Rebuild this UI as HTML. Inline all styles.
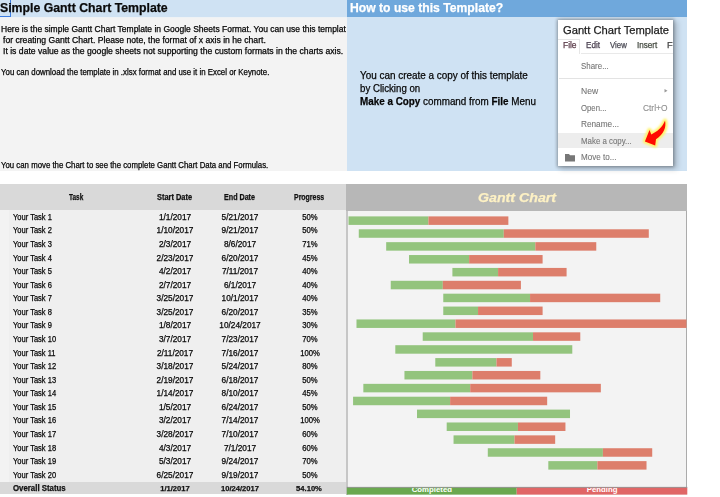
<!DOCTYPE html>
<html><head><meta charset="utf-8">
<style>
html,body{margin:0;padding:0;}
body{width:720px;height:497px;overflow:hidden;position:relative;background:#fff;font-family:"Liberation Sans",sans-serif;}
.r{position:absolute;}
.t{position:absolute;white-space:nowrap;line-height:normal;transform-origin:0 0;-webkit-text-stroke:0.25px currentColor;}
.c{position:absolute;white-space:nowrap;line-height:normal;text-align:center;transform-origin:50% 0;-webkit-text-stroke:0.25px currentColor;}
svg{position:absolute;left:0;top:0;}
</style></head><body>
<!-- top blocks -->
<div class="r" style="left:0;top:0;width:347px;height:16.7px;background:#cfe2f3"></div>
<div class="r" style="left:347px;top:0;width:340px;height:16.7px;background:#6fa8dc"></div>
<div class="r" style="left:0;top:16.7px;width:346.5px;height:154.3px;background:#f3f3f3"></div>
<div class="r" style="left:0;top:16.7px;width:346.5px;height:1.6px;background:#eef2f5"></div>
<div class="r" style="left:347px;top:16.7px;width:340px;height:154.3px;background:#cfe2f3"></div>
<!-- selection box -->
<div class="r" style="left:-2px;top:-2px;width:10.5px;height:16.5px;border:1.5px solid #3d7de0"></div>
<!-- popup -->
<div class="r" style="left:557.9px;top:19.6px;width:114.8px;height:146.8px;background:#fff;box-shadow:0 0 3px 1px rgba(0,0,0,0.3), 3px 2px 6px 1px rgba(0,0,0,0.2)"></div>
<div class="r" style="left:580.5px;top:53px;width:92.3px;height:1px;background:#e9e9e9"></div>
<div class="r" style="left:557.8px;top:38.5px;width:22.5px;height:15px;border-top:1px solid #e6e6e6;border-right:1px solid #e6e6e6;box-sizing:border-box"></div>
<div class="r" style="left:559px;top:78px;width:113.8px;height:1px;background:#e3e3e3"></div>
<div class="r" style="left:557.8px;top:133px;width:114.8px;height:15.4px;background:#ededed"></div>
<svg width="720" height="497" viewBox="0 0 720 497">
 <defs><filter id="glow" x="-50%" y="-50%" width="200%" height="200%"><feGaussianBlur stdDeviation="0.9"/></filter></defs>
 <path d="M664.5 89 l3 1.8 -3 1.8z" fill="#999"/>
 <path d="M565 154 h4 l1 1.2 h5 v6.3 h-10z" fill="#777"/>
 <path d="M665 120.8 C666.5 127 664 134 656 139.3 L655.2 145.6 L644.9 141.4 L649.5 130.1 L651.3 134.4 C657 132 662.5 127 665 120.8 Z" fill="#fff36a" stroke="#fff36a" stroke-width="4.2" stroke-linejoin="round" filter="url(#glow)"/>
 <path d="M665 120.8 C666.5 127 664 134 656 139.3 L655.2 145.6 L644.9 141.4 L649.5 130.1 L651.3 134.4 C657 132 662.5 127 665 120.8 Z" fill="#ff0a00"/>
</svg>
<!-- table -->
<div class="r" style="left:0;top:184px;width:346px;height:25.8px;background:#d9d9d9"></div>
<div class="r" style="left:0;top:210px;width:346px;height:272px;background:#efefef"></div>
<div class="r" style="left:0;top:210px;width:8.5px;height:272px;background:#f3f3f3"></div>
<div class="r" style="left:0;top:482px;width:345.5px;height:11.8px;background:#d9d9d9"></div>
<!-- chart -->
<div class="r" style="left:346px;top:184px;width:341.3px;height:26.7px;background:#b7b7b7"></div>
<div class="r" style="left:346px;top:210.7px;width:341px;height:284px;background:#f3f3f3"></div>
<div class="r" style="left:346px;top:210.7px;width:1.8px;height:284px;background:#c6c6c6"></div>
<div class="r" style="left:686px;top:210.7px;width:1px;height:276px;background:#ababab"></div>
<svg width="720" height="497" viewBox="0 0 720 497">
<rect x="348.50" y="216.40" width="79.93" height="8.5" fill="#93c47d"/>
<rect x="428.43" y="216.40" width="79.93" height="8.5" fill="#dd7e6b"/>
<rect x="358.78" y="229.28" width="145.01" height="8.5" fill="#93c47d"/>
<rect x="503.78" y="229.28" width="145.01" height="8.5" fill="#dd7e6b"/>
<rect x="386.18" y="242.16" width="149.16" height="8.5" fill="#93c47d"/>
<rect x="535.34" y="242.16" width="60.93" height="8.5" fill="#dd7e6b"/>
<rect x="409.02" y="255.04" width="60.12" height="8.5" fill="#93c47d"/>
<rect x="469.13" y="255.04" width="73.47" height="8.5" fill="#dd7e6b"/>
<rect x="452.40" y="267.92" width="45.67" height="8.5" fill="#93c47d"/>
<rect x="498.08" y="267.92" width="68.51" height="8.5" fill="#dd7e6b"/>
<rect x="390.75" y="280.80" width="52.07" height="8.5" fill="#93c47d"/>
<rect x="442.81" y="280.80" width="78.10" height="8.5" fill="#dd7e6b"/>
<rect x="443.27" y="293.68" width="86.78" height="8.5" fill="#93c47d"/>
<rect x="530.05" y="293.68" width="130.17" height="8.5" fill="#dd7e6b"/>
<rect x="443.27" y="306.56" width="34.77" height="8.5" fill="#93c47d"/>
<rect x="478.04" y="306.56" width="64.57" height="8.5" fill="#dd7e6b"/>
<rect x="356.49" y="319.44" width="98.99" height="8.5" fill="#93c47d"/>
<rect x="455.49" y="319.44" width="230.99" height="8.5" fill="#dd7e6b"/>
<rect x="422.72" y="332.32" width="110.30" height="8.5" fill="#93c47d"/>
<rect x="533.01" y="332.32" width="47.27" height="8.5" fill="#dd7e6b"/>
<rect x="395.31" y="345.20" width="176.98" height="8.5" fill="#93c47d"/>
<rect x="435.28" y="358.08" width="61.20" height="8.5" fill="#93c47d"/>
<rect x="496.48" y="358.08" width="15.30" height="8.5" fill="#dd7e6b"/>
<rect x="404.45" y="370.96" width="67.94" height="8.5" fill="#93c47d"/>
<rect x="472.39" y="370.96" width="67.94" height="8.5" fill="#dd7e6b"/>
<rect x="363.34" y="383.84" width="106.87" height="8.5" fill="#93c47d"/>
<rect x="470.22" y="383.84" width="130.62" height="8.5" fill="#dd7e6b"/>
<rect x="353.07" y="396.72" width="97.05" height="8.5" fill="#93c47d"/>
<rect x="450.12" y="396.72" width="97.05" height="8.5" fill="#dd7e6b"/>
<rect x="417.01" y="409.60" width="153.00" height="8.5" fill="#93c47d"/>
<rect x="446.69" y="422.48" width="71.25" height="8.5" fill="#93c47d"/>
<rect x="517.94" y="422.48" width="47.50" height="8.5" fill="#dd7e6b"/>
<rect x="453.55" y="435.36" width="60.97" height="8.5" fill="#93c47d"/>
<rect x="514.52" y="435.36" width="40.65" height="8.5" fill="#dd7e6b"/>
<rect x="487.80" y="448.24" width="115.09" height="8.5" fill="#93c47d"/>
<rect x="602.89" y="448.24" width="49.33" height="8.5" fill="#dd7e6b"/>
<rect x="548.32" y="461.12" width="49.10" height="8.5" fill="#93c47d"/>
<rect x="597.41" y="461.12" width="49.10" height="8.5" fill="#dd7e6b"/>
<rect x="346.8" y="486.9" width="340.5" height="0.9" fill="#7f7f7f"/>
<rect x="346.8" y="487.8" width="169.9" height="6.8" fill="#6aa84f"/>
<rect x="516.7" y="487.8" width="170.6" height="6.8" fill="#e06666"/>
</svg>
<div class="r" style="left:346.8px;top:487.8px;width:341px;height:6.8px;overflow:hidden">
 <div style="position:absolute;left:64.9px;top:-3.2px;font-size:7.8px;font-weight:bold;color:#fff;white-space:nowrap">Completed</div>
 <div style="position:absolute;left:239.9px;top:-3.2px;font-size:7.8px;font-weight:bold;color:#fff;white-space:nowrap">Pending</div>
</div>
<div class="t" id="gtitle" style="left:478px;top:189.69px;font-size:13.6px;font-weight:bold;font-style:italic;color:#fdf1c4;transform:scaleX(1.0440)">Gantt Chart</div>
<!-- texts -->
<div class="r" style="left:0;top:0;width:346.5px;height:184px;overflow:hidden">
<div class="t" id="title" style="left:0.20px;top:0.65px;font-size:12.210px;transform:scaleX(1.0066);font-weight:bold;color:#0b0b0b">Simple Gantt Chart Template</div>
<div class="t" id="l1" style="left:1.20px;top:24.47px;font-size:8.430px;transform:scaleX(1.0096);color:#050505">Here is the simple Gantt Chart Template in Google Sheets Format. You can use this templat</div>
<div class="t" id="l2" style="left:2.70px;top:35.27px;font-size:8.430px;transform:scaleX(1.0226);color:#050505">for creating Gantt Chart. Please note, the format of x axis in he chart.</div>
<div class="t" id="l3" style="left:2.70px;top:46.17px;font-size:8.430px;transform:scaleX(1.0250);color:#050505">It is date value as the google sheets not supporting the custom formats in the charts axis.</div>
<div class="t" id="l4" style="left:1.00px;top:66.97px;font-size:8.430px;transform:scaleX(0.9330);color:#050505">You can download the template in .xlsx format and use it in Excel or Keynote.</div>
<div class="t" id="l5" style="left:0.60px;top:160.17px;font-size:8.430px;transform:scaleX(0.9278);color:#050505">You can move the Chart to see the complete Gantt Chart Data and Formulas.</div>
</div>
<div class="t" id="how" style="left:350.00px;top:0.32px;font-size:12.791px;transform:scaleX(0.9516);font-weight:bold;color:#fff">How to use this Template?</div>
<div class="t" id="r1" style="left:359.60px;top:69.19px;font-size:10.611px;transform:scaleX(0.9344);color:#050505">You can create a copy of this template</div>
<div class="t" id="r2" style="left:359.80px;top:81.79px;font-size:10.611px;transform:scaleX(0.9121);color:#050505">by Clicking on</div>
<div class="t" id="r3" style="left:359.80px;top:94.69px;font-size:10.611px;transform:scaleX(0.9296);color:#050505"><b>Make a Copy</b> command from <b>File</b> Menu</div>
<div class="t" id="ptitle" style="left:563.00px;top:24.04px;font-size:11.337px;transform:scaleX(0.9860);color:#1c1c1c">Gantt Chart Template</div>
<div class="t" id="mfile" style="left:563.00px;top:40.31px;font-size:8.721px;transform:scaleX(0.9643);color:#5a3a48">File</div>
<div class="t" id="medit" style="left:586.00px;top:40.31px;font-size:8.721px;transform:scaleX(0.9333);color:#4a4050">Edit</div>
<div class="t" id="mview" style="left:610.00px;top:40.31px;font-size:8.721px;transform:scaleX(0.8947);color:#4a4a55">View</div>
<div class="t" id="mins" style="left:636.70px;top:40.31px;font-size:8.721px;transform:scaleX(0.9318);color:#444a40">Insert</div>
<div class="t" id="mf" style="left:666.70px;top:40.31px;font-size:8.721px;transform:scaleX(1.0600);color:#444">F</div>
<div class="t" id="share" style="left:581.20px;top:60.81px;font-size:8.721px;transform:scaleX(0.9097);color:#707070;-webkit-text-stroke:0.1px #888">Share...</div>
<div class="t" id="new" style="left:580.80px;top:85.81px;font-size:8.721px;transform:scaleX(0.9824);color:#707070;-webkit-text-stroke:0.1px #888">New</div>
<div class="t" id="open" style="left:580.80px;top:102.51px;font-size:8.721px;transform:scaleX(0.8897);color:#707070;-webkit-text-stroke:0.1px #888">Open...</div>
<div class="t" id="ctrlo" style="left:643.00px;top:102.51px;font-size:8.721px;transform:scaleX(0.9600);color:#8a8a8a;-webkit-text-stroke:0.1px #999">Ctrl+O</div>
<div class="t" id="rename" style="left:580.80px;top:119.11px;font-size:8.721px;transform:scaleX(0.9450);color:#707070;-webkit-text-stroke:0.1px #888">Rename...</div>
<div class="t" id="copy" style="left:580.80px;top:135.71px;font-size:8.721px;transform:scaleX(0.9036);color:#707070;-webkit-text-stroke:0.1px #888">Make a copy...</div>
<div class="t" id="move" style="left:580.80px;top:152.11px;font-size:8.721px;transform:scaleX(0.9263);color:#707070;-webkit-text-stroke:0.1px #888">Move to...</div>
<div class="t" id="hTask" style="left:69.20px;top:192.37px;font-size:8.430px;transform:scaleX(0.7684);font-weight:bold;color:#111">Task</div>
<div class="t" id="hStart" style="left:157.00px;top:192.37px;font-size:8.430px;transform:scaleX(0.8825);font-weight:bold;color:#111">Start Date</div>
<div class="t" id="hEnd" style="left:223.90px;top:192.37px;font-size:8.430px;transform:scaleX(0.8486);font-weight:bold;color:#111">End Date</div>
<div class="t" id="hProg" style="left:294.20px;top:192.37px;font-size:8.430px;transform:scaleX(0.8243);font-weight:bold;color:#111">Progress</div>
<div class="t" id="task1" style="left:12.80px;top:212.83px;font-size:8.140px;transform:scaleX(0.9257);color:#080808">Your Task 1</div>
<div class="c" style="left:134.70px;width:80px;top:212.83px;font-size:8.140px;transform:scaleX(1.0173);color:#080808">1/1/2017</div>
<div class="c" style="left:199.80px;width:80px;top:212.83px;font-size:8.140px;transform:scaleX(1.0173);color:#080808">5/21/2017</div>
<div class="c" style="left:269.60px;width:80px;top:212.83px;font-size:8.140px;transform:scaleX(0.9450);color:#080808">50%</div>
<div class="t" id="task2" style="left:12.80px;top:226.40px;font-size:8.140px;transform:scaleX(0.9257);color:#080808">Your Task 2</div>
<div class="c" style="left:134.70px;width:80px;top:226.40px;font-size:8.140px;transform:scaleX(1.0173);color:#080808">1/10/2017</div>
<div class="c" style="left:199.80px;width:80px;top:226.40px;font-size:8.140px;transform:scaleX(1.0173);color:#080808">9/21/2017</div>
<div class="c" style="left:269.60px;width:80px;top:226.40px;font-size:8.140px;transform:scaleX(0.9450);color:#080808">50%</div>
<div class="t" id="task3" style="left:12.80px;top:239.97px;font-size:8.140px;transform:scaleX(0.9257);color:#080808">Your Task 3</div>
<div class="c" style="left:134.70px;width:80px;top:239.97px;font-size:8.140px;transform:scaleX(1.0173);color:#080808">2/3/2017</div>
<div class="c" style="left:199.80px;width:80px;top:239.97px;font-size:8.140px;transform:scaleX(1.0173);color:#080808">8/6/2017</div>
<div class="c" style="left:269.60px;width:80px;top:239.97px;font-size:8.140px;transform:scaleX(0.9450);color:#080808">71%</div>
<div class="t" id="task4" style="left:12.80px;top:253.54px;font-size:8.140px;transform:scaleX(0.9257);color:#080808">Your Task 4</div>
<div class="c" style="left:134.70px;width:80px;top:253.54px;font-size:8.140px;transform:scaleX(1.0173);color:#080808">2/23/2017</div>
<div class="c" style="left:199.80px;width:80px;top:253.54px;font-size:8.140px;transform:scaleX(1.0173);color:#080808">6/20/2017</div>
<div class="c" style="left:269.60px;width:80px;top:253.54px;font-size:8.140px;transform:scaleX(0.9450);color:#080808">45%</div>
<div class="t" id="task5" style="left:12.80px;top:267.11px;font-size:8.140px;transform:scaleX(0.9257);color:#080808">Your Task 5</div>
<div class="c" style="left:134.70px;width:80px;top:267.11px;font-size:8.140px;transform:scaleX(1.0173);color:#080808">4/2/2017</div>
<div class="c" style="left:199.80px;width:80px;top:267.11px;font-size:8.140px;transform:scaleX(1.0173);color:#080808">7/11/2017</div>
<div class="c" style="left:269.60px;width:80px;top:267.11px;font-size:8.140px;transform:scaleX(0.9450);color:#080808">40%</div>
<div class="t" id="task6" style="left:12.80px;top:280.68px;font-size:8.140px;transform:scaleX(0.9257);color:#080808">Your Task 6</div>
<div class="c" style="left:134.70px;width:80px;top:280.68px;font-size:8.140px;transform:scaleX(1.0173);color:#080808">2/7/2017</div>
<div class="c" style="left:199.80px;width:80px;top:280.68px;font-size:8.140px;transform:scaleX(1.0173);color:#080808">6/1/2017</div>
<div class="c" style="left:269.60px;width:80px;top:280.68px;font-size:8.140px;transform:scaleX(0.9450);color:#080808">40%</div>
<div class="t" id="task7" style="left:12.80px;top:294.25px;font-size:8.140px;transform:scaleX(0.9257);color:#080808">Your Task 7</div>
<div class="c" style="left:134.70px;width:80px;top:294.25px;font-size:8.140px;transform:scaleX(1.0173);color:#080808">3/25/2017</div>
<div class="c" style="left:199.80px;width:80px;top:294.25px;font-size:8.140px;transform:scaleX(1.0173);color:#080808">10/1/2017</div>
<div class="c" style="left:269.60px;width:80px;top:294.25px;font-size:8.140px;transform:scaleX(0.9450);color:#080808">40%</div>
<div class="t" id="task8" style="left:12.80px;top:307.82px;font-size:8.140px;transform:scaleX(0.9257);color:#080808">Your Task 8</div>
<div class="c" style="left:134.70px;width:80px;top:307.82px;font-size:8.140px;transform:scaleX(1.0173);color:#080808">3/25/2017</div>
<div class="c" style="left:199.80px;width:80px;top:307.82px;font-size:8.140px;transform:scaleX(1.0173);color:#080808">6/20/2017</div>
<div class="c" style="left:269.60px;width:80px;top:307.82px;font-size:8.140px;transform:scaleX(0.9450);color:#080808">35%</div>
<div class="t" id="task9" style="left:12.80px;top:321.39px;font-size:8.140px;transform:scaleX(0.9257);color:#080808">Your Task 9</div>
<div class="c" style="left:134.70px;width:80px;top:321.39px;font-size:8.140px;transform:scaleX(1.0173);color:#080808">1/8/2017</div>
<div class="c" style="left:199.80px;width:80px;top:321.39px;font-size:8.140px;transform:scaleX(1.0173);color:#080808">10/24/2017</div>
<div class="c" style="left:269.60px;width:80px;top:321.39px;font-size:8.140px;transform:scaleX(0.9450);color:#080808">30%</div>
<div class="t" id="task10" style="left:12.80px;top:334.96px;font-size:8.140px;transform:scaleX(0.9257);color:#080808">Your Task 10</div>
<div class="c" style="left:134.70px;width:80px;top:334.96px;font-size:8.140px;transform:scaleX(1.0173);color:#080808">3/7/2017</div>
<div class="c" style="left:199.80px;width:80px;top:334.96px;font-size:8.140px;transform:scaleX(1.0173);color:#080808">7/23/2017</div>
<div class="c" style="left:269.60px;width:80px;top:334.96px;font-size:8.140px;transform:scaleX(0.9450);color:#080808">70%</div>
<div class="t" id="task11" style="left:12.80px;top:348.53px;font-size:8.140px;transform:scaleX(0.9257);color:#080808">Your Task 11</div>
<div class="c" style="left:134.70px;width:80px;top:348.53px;font-size:8.140px;transform:scaleX(1.0173);color:#080808">2/11/2017</div>
<div class="c" style="left:199.80px;width:80px;top:348.53px;font-size:8.140px;transform:scaleX(1.0173);color:#080808">7/16/2017</div>
<div class="c" style="left:269.60px;width:80px;top:348.53px;font-size:8.140px;transform:scaleX(0.9450);color:#080808">100%</div>
<div class="t" id="task12" style="left:12.80px;top:362.10px;font-size:8.140px;transform:scaleX(0.9257);color:#080808">Your Task 12</div>
<div class="c" style="left:134.70px;width:80px;top:362.10px;font-size:8.140px;transform:scaleX(1.0173);color:#080808">3/18/2017</div>
<div class="c" style="left:199.80px;width:80px;top:362.10px;font-size:8.140px;transform:scaleX(1.0173);color:#080808">5/24/2017</div>
<div class="c" style="left:269.60px;width:80px;top:362.10px;font-size:8.140px;transform:scaleX(0.9450);color:#080808">80%</div>
<div class="t" id="task13" style="left:12.80px;top:375.67px;font-size:8.140px;transform:scaleX(0.9257);color:#080808">Your Task 13</div>
<div class="c" style="left:134.70px;width:80px;top:375.67px;font-size:8.140px;transform:scaleX(1.0173);color:#080808">2/19/2017</div>
<div class="c" style="left:199.80px;width:80px;top:375.67px;font-size:8.140px;transform:scaleX(1.0173);color:#080808">6/18/2017</div>
<div class="c" style="left:269.60px;width:80px;top:375.67px;font-size:8.140px;transform:scaleX(0.9450);color:#080808">50%</div>
<div class="t" id="task14" style="left:12.80px;top:389.24px;font-size:8.140px;transform:scaleX(0.9257);color:#080808">Your Task 14</div>
<div class="c" style="left:134.70px;width:80px;top:389.24px;font-size:8.140px;transform:scaleX(1.0173);color:#080808">1/14/2017</div>
<div class="c" style="left:199.80px;width:80px;top:389.24px;font-size:8.140px;transform:scaleX(1.0173);color:#080808">8/10/2017</div>
<div class="c" style="left:269.60px;width:80px;top:389.24px;font-size:8.140px;transform:scaleX(0.9450);color:#080808">45%</div>
<div class="t" id="task15" style="left:12.80px;top:402.81px;font-size:8.140px;transform:scaleX(0.9257);color:#080808">Your Task 15</div>
<div class="c" style="left:134.70px;width:80px;top:402.81px;font-size:8.140px;transform:scaleX(1.0173);color:#080808">1/5/2017</div>
<div class="c" style="left:199.80px;width:80px;top:402.81px;font-size:8.140px;transform:scaleX(1.0173);color:#080808">6/24/2017</div>
<div class="c" style="left:269.60px;width:80px;top:402.81px;font-size:8.140px;transform:scaleX(0.9450);color:#080808">50%</div>
<div class="t" id="task16" style="left:12.80px;top:416.38px;font-size:8.140px;transform:scaleX(0.9257);color:#080808">Your Task 16</div>
<div class="c" style="left:134.70px;width:80px;top:416.38px;font-size:8.140px;transform:scaleX(1.0173);color:#080808">3/2/2017</div>
<div class="c" style="left:199.80px;width:80px;top:416.38px;font-size:8.140px;transform:scaleX(1.0173);color:#080808">7/14/2017</div>
<div class="c" style="left:269.60px;width:80px;top:416.38px;font-size:8.140px;transform:scaleX(0.9450);color:#080808">100%</div>
<div class="t" id="task17" style="left:12.80px;top:429.95px;font-size:8.140px;transform:scaleX(0.9257);color:#080808">Your Task 17</div>
<div class="c" style="left:134.70px;width:80px;top:429.95px;font-size:8.140px;transform:scaleX(1.0173);color:#080808">3/28/2017</div>
<div class="c" style="left:199.80px;width:80px;top:429.95px;font-size:8.140px;transform:scaleX(1.0173);color:#080808">7/10/2017</div>
<div class="c" style="left:269.60px;width:80px;top:429.95px;font-size:8.140px;transform:scaleX(0.9450);color:#080808">60%</div>
<div class="t" id="task18" style="left:12.80px;top:443.52px;font-size:8.140px;transform:scaleX(0.9257);color:#080808">Your Task 18</div>
<div class="c" style="left:134.70px;width:80px;top:443.52px;font-size:8.140px;transform:scaleX(1.0173);color:#080808">4/3/2017</div>
<div class="c" style="left:199.80px;width:80px;top:443.52px;font-size:8.140px;transform:scaleX(1.0173);color:#080808">7/1/2017</div>
<div class="c" style="left:269.60px;width:80px;top:443.52px;font-size:8.140px;transform:scaleX(0.9450);color:#080808">60%</div>
<div class="t" id="task19" style="left:12.80px;top:457.09px;font-size:8.140px;transform:scaleX(0.9257);color:#080808">Your Task 19</div>
<div class="c" style="left:134.70px;width:80px;top:457.09px;font-size:8.140px;transform:scaleX(1.0173);color:#080808">5/3/2017</div>
<div class="c" style="left:199.80px;width:80px;top:457.09px;font-size:8.140px;transform:scaleX(1.0173);color:#080808">9/24/2017</div>
<div class="c" style="left:269.60px;width:80px;top:457.09px;font-size:8.140px;transform:scaleX(0.9450);color:#080808">70%</div>
<div class="t" id="task20" style="left:12.80px;top:470.66px;font-size:8.140px;transform:scaleX(0.9257);color:#080808">Your Task 20</div>
<div class="c" style="left:134.70px;width:80px;top:470.66px;font-size:8.140px;transform:scaleX(1.0173);color:#080808">6/25/2017</div>
<div class="c" style="left:199.80px;width:80px;top:470.66px;font-size:8.140px;transform:scaleX(1.0173);color:#080808">9/19/2017</div>
<div class="c" style="left:269.60px;width:80px;top:470.66px;font-size:8.140px;transform:scaleX(0.9450);color:#080808">50%</div>
<div class="t" id="overall" style="left:12.50px;top:483.63px;font-size:8.140px;transform:scaleX(0.9650);font-weight:bold;color:#111">Overall Status</div>
<div class="c" style="left:134.70px;width:80px;top:483.89px;font-size:7.849px;transform:scaleX(0.9700);font-weight:bold;color:#111">1/1/2017</div>
<div class="c" style="left:199.80px;width:80px;top:483.89px;font-size:7.849px;transform:scaleX(0.9700);font-weight:bold;color:#111">10/24/2017</div>
<div class="c" style="left:269.40px;width:80px;top:483.89px;font-size:7.849px;transform:scaleX(0.9700);font-weight:bold;color:#111">54.10%</div>
</body></html>
